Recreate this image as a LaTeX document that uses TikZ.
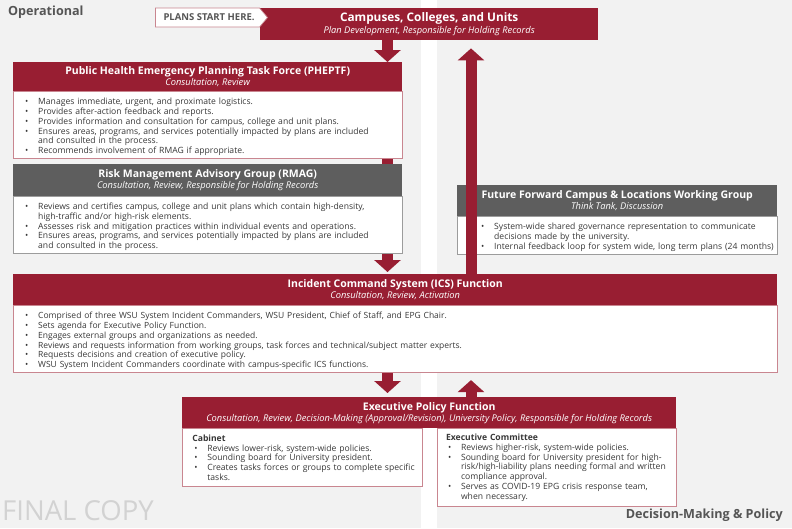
\documentclass[tikz,border=0pt]{standalone}
\usepackage{fontspec}
\setmainfont{Open Sans}
\usepackage{tikz}
\usetikzlibrary{positioning}
\usetikzlibrary{shapes.symbols,arrows.meta}

\definecolor{crimson}{HTML}{981E32}
\definecolor{headgray}{HTML}{5E5E5E}
\definecolor{pinkline}{HTML}{C98690}
\definecolor{grayline}{HTML}{9C9C9C}
\definecolor{panel}{HTML}{F2F2F2}
\definecolor{bodytext}{HTML}{383838}
\definecolor{labeltext}{HTML}{555555}
\definecolor{watermark}{HTML}{D2D2D2}

\newcommand{\titlef}{\fontsize{10.5}{12}\selectfont\upshape\bfseries}
\newcommand{\subf}{\fontsize{9.3}{11}\selectfont\itshape}
\newcommand{\bodyset}[1]{\raggedright\rightskip=#1 plus 1fil\relax}
\newcommand{\bul}{\par\noindent\hangindent=15pt\hangafter=1\makebox[15pt][l]{\hspace{2pt}\textbullet}}

\tikzstyle{head} = [anchor=north west, fill=crimson, text=white, align=center, inner sep=0pt, font=\subf]
\tikzstyle{grayhead} = [head, fill=headgray]
\tikzstyle{body} = [draw=pinkline, line width=0.7pt, fill=white, text=bodytext, inner xsep=10pt, inner ysep=0pt, font=\fontsize{8.6}{9.8}\selectfont]
\tikzstyle{graybody} = [body, draw=grayline]
\tikzstyle{plans} = [signal, signal to=east, signal pointer angle=100, draw=pinkline, line width=0.7pt, fill=white, text=labeltext, font=\fontsize{9.5}{11}\selectfont\bfseries, minimum height=19pt, minimum width=112pt, inner sep=2pt]
\tikzstyle{bigarrow} = [draw=crimson, line width=11pt, -{Triangle[width=26pt,length=12pt]}]
\tikzstyle{side} = [font=\fontsize{12.6}{14}\selectfont\bfseries, text=labeltext, inner sep=0pt]

\begin{document}
\begin{tikzpicture}[x=1pt, y=-1pt]
	\useasboundingbox (0,0) rectangle (792,528);
	\fill [white] (0,0) rectangle (792,528);
	\fill [panel] (0,0) rectangle (421,528);
	\fill [panel] (437,0) rectangle (792,528);
	\coordinate (dn) at (387.5,0);
	\coordinate (up) at (471,0);

	% title node
	\node [head, minimum width=338pt, minimum height=32pt] (N1) at (260,8)
		{{\fontsize{11.8}{13}\selectfont\upshape\bfseries Campuses, Colleges, and Units}\\[1pt]Plan Development, Responsible for Holding Records};
	\node [plans, anchor=east] (N0) at (268,17.5) {\hspace{3pt}PLANS START HERE.};

	% place nodes
	\node [head, minimum width=389pt, minimum height=29pt] (N2) at (13,62)
		{{\titlef Public Health Emergency Planning Task Force (PHEPTF)}\\Consultation, Review};
	\node [body, below=0pt of N2, text width=369pt, minimum height=67pt] (B2) {\bodyset{14pt}
		\bul Manages immediate, urgent, and proximate logistics.
		\bul Provides after-action feedback and reports.
		\bul Provides information and consultation for campus, college and unit plans.
		\bul Ensures areas, programs, and services potentially impacted by plans are included and consulted in the process.
		\bul Recommends involvement of RMAG if appropriate.\par};

	\node [head, minimum width=764pt, minimum height=31pt] (N6) at (13,274)
		{{\titlef Incident Command System (ICS) Function}\\Consultation, Review, Activation};
	\node [body, below=0pt of N6, text width=744pt, minimum height=67pt, font=\fontsize{8.5}{9.8}\selectfont] (B6) {\bodyset{0pt}
		\bul Comprised of three WSU System Incident Commanders, WSU President, Chief of Staff, and EPG Chair.
		\bul Sets agenda for Executive Policy Function.
		\bul Engages external groups and organizations as needed.
		\bul Reviews and requests information from working groups, task forces and technical/subject matter experts.
		\bul Requests decisions and creation of executive policy.
		\bul WSU System Incident Commanders coordinate with campus-specific ICS functions.\par};

	\path [bigarrow, shorten >=2pt] (B2.south -| dn) -- (N6.north -| dn);

	\node [grayhead, minimum width=389pt, minimum height=32pt] (N3) at (13,164)
		{{\titlef Risk Management Advisory Group (RMAG)}\\Consultation, Review, Responsible for Holding Records};
	\node [graybody, below=0pt of N3, text width=369pt, minimum height=57pt] (B3) {\bodyset{14pt}
		\bul Reviews and certifies campus, college and unit plans which contain high-density, high-traffic and/or high-risk elements.
		\bul Assesses risk and mitigation practices within individual events and operations.
		\bul Ensures areas, programs, and services potentially impacted by plans are included and consulted in the process.\par};

	\node [grayhead, minimum width=320pt, minimum height=31pt] (N4) at (457,185)
		{{\titlef Future Forward Campus \& Locations Working Group}\\Think Tank, Discussion};
	\node [graybody, below=0pt of N4, inner xsep=3pt, text width=314pt, minimum height=38pt] (B4) {\bodyset{0pt}\leftskip=19pt
		\bul System-wide shared governance representation to communicate decisions made by the university.
		\bul Internal feedback loop for system wide, long term plans (24 months)\par};

	\node [head, minimum width=494pt, minimum height=31pt] (N7) at (182,397)
		{{\titlef Executive Policy Function}\\Consultation, Review, Decision-Making (Approval/Revision), University Policy, Responsible for Holding Records};
	\node [body, anchor=north west, inner xsep=6pt, text width=228pt, minimum height=58pt] (B7) at (N7.south west) {\bodyset{0pt}\leftskip=4pt
		\noindent{\bfseries Cabinet}
		\bul Reviews lower-risk, system-wide policies.
		\bul Sounding board for University president.
		\bul Creates tasks forces or groups to complete specific\newline tasks.\par};
	\node [body, anchor=north east, inner xsep=6pt, text width=227pt, minimum height=78pt] (B8) at (N7.south east) {\bodyset{-10pt}\leftskip=3pt
		\noindent{\bfseries Executive Committee}
		\bul Reviews higher-risk, system-wide policies.
		\bul Sounding board for University president for high-\newline risk/high-liability plans needing formal and written\newline compliance approval.
		\bul Serves as COVID-19 EPG crisis response team,\newline when necessary.\par};

	% draw edges
	\path [bigarrow] (N1.south -| dn) -- (N2.north -| dn);
	\path [bigarrow, shorten >=8pt] (N6.north -| up) -- (N1.south -| up);
	\path [bigarrow, shorten >=4pt] (B6.south -| dn) -- (N7.north -| dn);
	\path [bigarrow, shorten >=7pt] (N7.north -| up) -- (B6.south -| up);

	% side labels
	\node [side, anchor=west] (L1) at (8,12) {Operational};
	\node [side, anchor=east] (L2) at (783,515) {Decision-Making \& Policy};
	\node [anchor=west, inner sep=0pt, text=watermark, font=\fontsize{27.5}{30}\selectfont] (L3) at (2,511) {FINAL COPY};
\end{tikzpicture}
\end{document}
